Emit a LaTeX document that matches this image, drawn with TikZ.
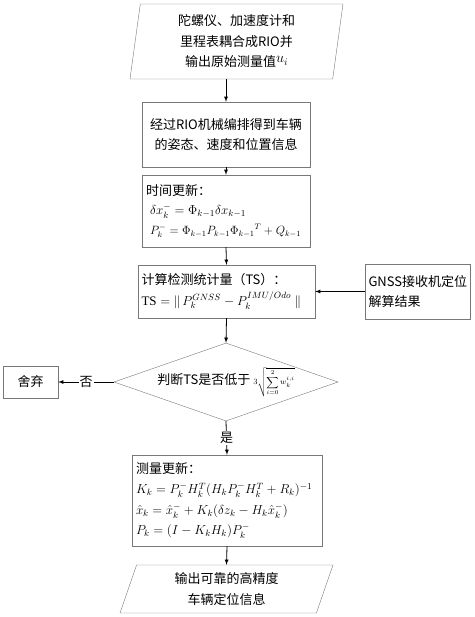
\documentclass[tikz,border=0pt]{standalone}
\usepackage{fix-cm}
\usepackage{amsmath}
\usepackage{fontspec}
\setmainfont{Liberation Serif}
\newfontfamily\cjk{Noto Sans CJK SC}
\usepackage{tikz}
\usetikzlibrary{shapes.geometric}
\definecolor{edgegray}{RGB}{120,120,120}

\tikzset{
  box/.style={draw=edgegray, rectangle, inner sep=3pt},
  io/.style={draw=edgegray, trapezium, trapezium stretches body, inner sep=0pt},
  arr/.style={-latex, thick},
}

\begin{document}
\begin{tikzpicture}[x=1pt,y=-1pt,font=\fontsize{13}{20.5}\selectfont\cjk]
						\useasboundingbox (0,0) rectangle (474,617);
						
						\node (in) at (236.5,41.5) [io, trapezium left angle=79, trapezium right angle=101, minimum width=213, minimum height=75, align=center] {陀螺仪、加速度计和\\里程表耦合成RIO并\\输出原始测量值\raisebox{4pt}{\Large$u_i$}};
						\node (mech) at (226,134.5) [box, minimum width=168, minimum height=65, align=center] {经过RIO机械编排得到车辆\\的姿态、速度和位置信息};
						\node (tupd) at (226,211) [box, minimum width=168, minimum height=72, text width=160, align=left] {时间更新：\\[-1pt]
							\hspace*{4pt}\mbox{$\delta x_k^- = \Phi_{k-1}\delta x_{k-1}$}\\[-1pt]
							\hspace*{4pt}\mbox{\fontsize{12}{18}\selectfont$P_k^- = \Phi_{k-1}P_{k-1}\Phi_{k-1}{}^{T} + Q_{k-1}$}};
						\node (ts) at (226.5,291.5) [box, minimum width=177, minimum height=53, text width=170, align=left] {计算检测统计量（TS）：\\
							\mbox{$\mathrm{TS} =\| \, P_k^{GNSS} - P_k^{IMU/Odo} \;\|$}};
						\node (gnss) at (417.5,291.5) [box, minimum width=105, minimum height=55, text width=98, align=left] {GNSS接收机定位\\解算结果};
						\node (judge) at (226,382) [draw=edgegray, diamond, aspect=2.87, inner sep=0pt, minimum width=224, minimum height=78] {判断TS是否低于 {\fontsize{8}{10}\selectfont$3\sqrt{\displaystyle\sum_{i=0}^{2} w_k^{i,i}}$}};
						\node (drop) at (30.5,382) [box, minimum width=55, minimum height=32] {舍弃};
						\node (mupd) at (227,500.5) [box, minimum width=190, minimum height=91, text width=182, align=left] {测量更新：\\
							\mbox{$K_k = P_k^- H_k^T (H_k P_k^- H_k^T + R_k)^{-1}$}\\
							\mbox{$\hat{x}_k = \hat{x}_k^- + K_k(\delta z_k - H_k\hat{x}_k^-)$}\\
							\mbox{$P_k = (I - K_k H_k)P_k^-$}};
						\node (out) at (226.5,589) [io, trapezium left angle=63, trapezium right angle=117, minimum width=213, minimum height=48, align=center] {输出可靠的高精度\\车辆定位信息};
						
						\draw[arr] (in.south -| mech.north) -- (mech.north);
						\draw[arr] (mech.south) -- (tupd.north);
						\draw[arr] (tupd.south) -- (ts.north);
						\draw[arr] (gnss.west) -- (ts.east);
						\draw[arr] (ts.south) -- (judge.north);
						\draw[arr] (judge.west) -- node[fill=white, inner sep=1pt] {否} (drop.east);
						\draw[arr] (judge.south) -- node[fill=white, inner sep=1pt] {是} (mupd.north);
						\draw[arr] (mupd.south) -- (out.north);
					\end{tikzpicture}
\end{document}
